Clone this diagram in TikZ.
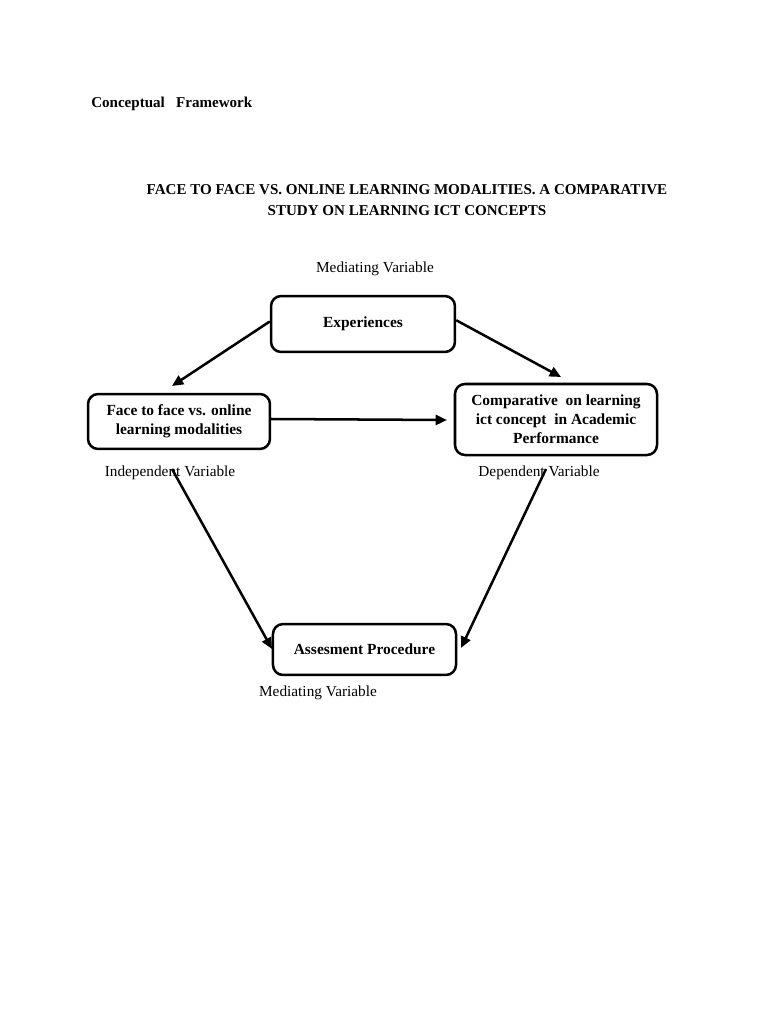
\documentclass[tikz,border=0pt]{standalone}
\usepackage{fontspec}
\setmainfont{Liberation Serif}
\usetikzlibrary{arrows.meta}
\begin{document}
\begin{tikzpicture}[x=0.797pt,y=-0.797pt,
  box/.style={draw=black,line width=2pt,rounded corners=8pt,font=\bfseries\fontsize{12.3}{15}\selectfont,align=center,inner sep=0pt},
  lbl/.style={font=\fontsize{12.2}{14}\selectfont,inner sep=0pt},
  arr/.style={line width=2pt,-{Triangle[length=9pt,width=8pt]}}]
\useasboundingbox[fill=white] (0,0) rectangle (768,1024);
\node[font=\bfseries\fontsize{12}{14}\selectfont,anchor=west,inner sep=0pt] (cf) at (91,104) {Conceptual\ \ \ Framework};
\node[font=\bfseries\fontsize{12}{16.7}\selectfont,align=center,inner sep=0pt] (title) at (407,200) {FACE TO FACE VS. ONLINE LEARNING MODALITIES. A COMPARATIVE\\STUDY ON LEARNING ICT CONCEPTS};
\node[lbl] (mv1) at (375,268.5) {Mediating Variable};
\node[box,minimum width=146.6pt,minimum height=44.6pt] (e) at (363,324) {Experiences};
\node[box,minimum width=145pt,minimum height=43.8pt] (f) at (179,421.5) {Face to face vs. online\\learning modalities};
\node[box,minimum width=161pt,minimum height=56.6pt] (c) at (556,419.5) {Comparative\ \ on learning\\ict concept\ \ in Academic\\Performance};
\node[box,minimum width=145.9pt,minimum height=40.6pt] (a) at (364.5,649.5) {Assesment Procedure};
\node[lbl] (iv) at (170,473) {Independent Variable};
\node[lbl] (dv) at (539,473) {Dependent Variable};
\node[lbl] (mv2) at (318,693) {Mediating Variable};
\coordinate (p1) at (172,386);
\coordinate (p2) at (561,377);
\coordinate (p3) at (447,420);
\coordinate (s1) at (172,469);
\coordinate (s2) at (546,469);
\coordinate (p4) at (272,649);
\coordinate (p5) at (461,648);
\draw[arr] ([yshift=2pt]e.west) -- (p1);
\draw[arr] ([yshift=3pt]e.east) -- (p2);
\draw[arr] ([yshift=2pt]f.east) -- (p3);
\draw[arr] (s1) -- (p4);
\draw[arr] (s2) -- (p5);
\end{tikzpicture}
\end{document}
